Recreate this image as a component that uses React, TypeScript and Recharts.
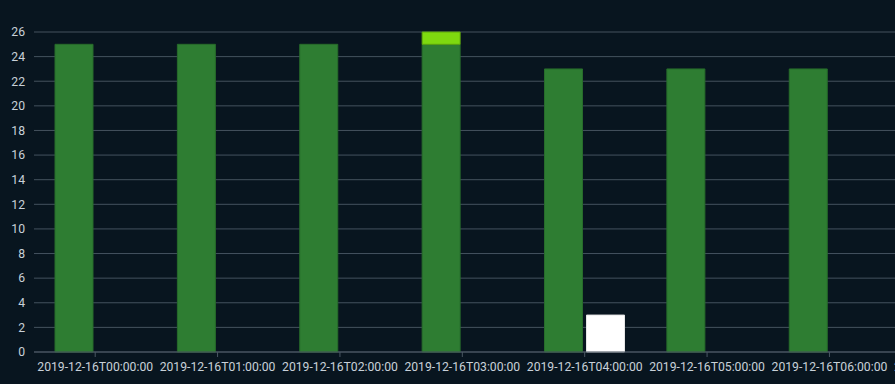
import { BarChart, Bar, XAxis, YAxis, CartesianGrid } from 'recharts';

const hours = [
  '2019-12-16T00:00:00',
  '2019-12-16T01:00:00',
  '2019-12-16T02:00:00',
  '2019-12-16T03:00:00',
  '2019-12-16T04:00:00',
  '2019-12-16T05:00:00',
  '2019-12-16T06:00:00',
  '2019-12-16T07:00:00',
];
const okCounts = [25, 25, 25, 25, 23, 23, 23, null];
const warnCounts = [null, null, null, 1, null, null, null, null];
const otherCounts = [null, null, null, null, 3, null, null, null];
const yTicks = [0, 2, 4, 6, 8, 10, 12, 14, 16, 18, 20, 22, 24, 26];

const data = hours.map((h, i) => ({
  name: h,
  ok: okCounts[i],
  warn: warnCounts[i],
  other: otherCounts[i],
}));

export default function App() {
  return (
    <div style={{ position: 'absolute', left: 0, top: 0, width: 895, height: 384, overflow: 'hidden', background: '#08151f' }}>
      <BarChart
        width={1013}
        height={384}
        data={data}
        margin={{ top: 32, right: 0, bottom: 0, left: 0 }}
        barSize={38}
        barGap={4}
      >
        <CartesianGrid vertical={false} stroke="#44525e" strokeWidth={1} />
        <XAxis
          dataKey="name"
          height={32}
          tickSize={5}
          tickMargin={5}
          interval={0}
          stroke="#4a5763"
          tick={{ fill: '#c8d1d9', fontSize: 12.2, fontFamily: 'Roboto' }}
        />
        <YAxis
          width={34}
          domain={[0, 26]}
          ticks={yTicks}
          interval={0}
          axisLine={false}
          tickLine={false}
          tickSize={0}
          tickMargin={9}
          tick={{ fill: '#c8d1d9', fontSize: 12.2, fontFamily: 'Roboto' }}
        />
        <Bar dataKey="ok" stackId="a" fill="#2e7d32" stroke="#276c2b" isAnimationActive={false} />
        <Bar dataKey="warn" stackId="a" fill="#7ed90f" stroke="#5fa80d" isAnimationActive={false} />
        <Bar dataKey="other" fill="#ffffff" stroke="#e6e6e6" isAnimationActive={false} />
      </BarChart>
    </div>
  );
}
